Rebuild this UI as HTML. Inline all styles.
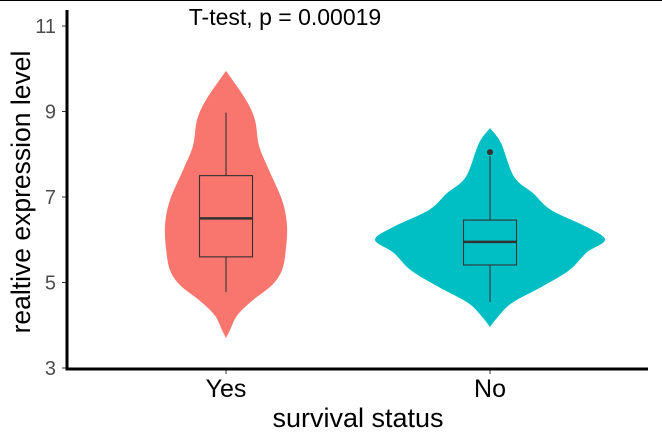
<!DOCTYPE html>
<html><head><meta charset="utf-8">
<style>
html,body{margin:0;padding:0;background:#fff;}
svg{display:block;font-family:"Liberation Sans",Arial,sans-serif;}
</style></head>
<body>
<svg id="chart" width="662" height="441" viewBox="0 0 662 441" xmlns="http://www.w3.org/2000/svg">
<line x1="0" y1="0.5" x2="662" y2="0.5" stroke="#000" stroke-width="1"/>
<g id="plot"></g>
<text x="285" y="25" text-anchor="middle" font-size="23" fill="#000">T-test, p = 0.00019</text>
<text x="358" y="427" text-anchor="middle" font-size="27" fill="#000">survival status</text>
<text transform="translate(30,192) rotate(-90)" text-anchor="middle" font-size="26.5" fill="#000">realtive expression level</text>
</svg>
<script>
const categories = ["Yes", "No"];
const colors = ["#F8766D", "#00BFC4"];
const yTicks = [3, 5, 7, 9, 11];
// violin density profiles: values and relative densities
const yesDensVals = [3.7, 3.89, 4.24, 4.59, 4.94, 5.29, 5.76, 6.35, 6.93, 7.63, 8.2, 8.8, 9.27, 9.95];
const yesDens = [0, 0.035, 0.10, 0.235, 0.40, 0.487, 0.52, 0.53, 0.487, 0.374, 0.287, 0.252, 0.174, 0];
const noDensVals = [3.96, 4.2, 4.52, 4.9, 5.29, 5.7, 6.0, 6.3, 6.7, 7.09, 7.47, 8.26, 8.61];
const noDens = [0, 0.07, 0.19, 0.45, 0.69, 0.84, 1.0, 0.84, 0.53, 0.374, 0.21, 0.096, 0];
// box stats: [lowerWhisker, q1, median, q3, upperWhisker]
const yesBox = [4.78, 5.6, 6.5, 7.5, 8.97];
const noBox = [4.54, 5.41, 5.95, 6.46, 7.96];
const noOutliers = [8.05];

const X0 = 67, X1 = 648, YTOP = 10, YBOT = 369;
const y = v => 368 - (v - 3) * 42.75;
const x = i => 226 + i * 264;
const maxHalf = 115;
const ns = "http://www.w3.org/2000/svg";
const plot = document.getElementById("plot");
function mk(tag, attrs, parent) {
  const e = document.createElementNS(ns, tag);
  for (const k in attrs) e.setAttribute(k, attrs[k]);
  (parent || plot).appendChild(e);
  return e;
}
function smooth(p) {
  let d = "M" + p[0][0] + "," + p[0][1];
  for (let i = 0; i < p.length - 1; i++) {
    const p0 = p[Math.max(0, i - 1)], p1 = p[i], p2 = p[i + 1], p3 = p[Math.min(p.length - 1, i + 2)];
    const c1x = p1[0] + (p2[0] - p0[0]) / 6, c1y = p1[1] + (p2[1] - p0[1]) / 6;
    const c2x = p2[0] - (p3[0] - p1[0]) / 6, c2y = p2[1] - (p3[1] - p1[1]) / 6;
    d += " C" + c1x + "," + c1y + " " + c2x + "," + c2y + " " + p2[0] + "," + p2[1];
  }
  return d;
}
const dens = [[yesDensVals, yesDens], [noDensVals, noDens]];
const boxes = [yesBox, noBox];
const outs = [[], noOutliers];
for (let i = 0; i < categories.length; i++) {
  const [vals, d] = dens[i];
  const cx = x(i);
  const right = [], left = [];
  for (let j = 0; j < vals.length; j++) right.push([cx + d[j] * maxHalf, y(vals[j])]);
  for (let j = vals.length - 1; j >= 0; j--) left.push([cx - d[j] * maxHalf, y(vals[j])]);
  const path = smooth(right) + " L" + smooth(left).slice(1) + " Z";
  const vp = mk("path", {d: path, fill: colors[i]});
  
  
  const b = boxes[i];
  const hw = 26.5;
  const w1 = mk("line", {x1: cx, x2: cx, y1: y(b[0]), y2: y(b[4]), stroke: "#333", "stroke-width": 1.1});
  
  
  const r = mk("rect", {x: cx - hw, y: y(b[3]), width: hw * 2, height: y(b[1]) - y(b[3]), fill: colors[i], stroke: "#333", "stroke-width": 1.1});
  
  
  const m = mk("line", {x1: cx - hw, x2: cx + hw, y1: y(b[2]), y2: y(b[2]), stroke: "#333", "stroke-width": 2.5});
  
  
  for (const o of outs[i]) {
    const c = mk("circle", {cx: cx, cy: y(o), r: 3, fill: "#333"});
    
    
  }
  const t = mk("line", {x1: cx, x2: cx, y1: YBOT, y2: YBOT + 5, stroke: "#333", "stroke-width": 1});
  
  
  const tl = mk("text", {x: cx, y: 397, "text-anchor": "middle", "font-size": 25, fill: "#000"});
  tl.textContent = categories[i];
  
  
}
for (const v of yTicks) {
  const t = mk("line", {x1: 62, x2: X0, y1: y(v), y2: y(v), stroke: "#333", "stroke-width": 1});
  
  
  const tl = mk("text", {x: 56, y: y(v) + 7, "text-anchor": "end", "font-size": 20, fill: "#4D4D4D"});
  tl.textContent = v;
  
  
}
const ax = mk("line", {x1: X0 - 1.5, x2: X1, y1: YBOT, y2: YBOT, stroke: "#000", "stroke-width": 3});


const ay = mk("line", {x1: X0, x2: X0, y1: YTOP, y2: YBOT, stroke: "#000", "stroke-width": 3});


</script>
</body></html>
